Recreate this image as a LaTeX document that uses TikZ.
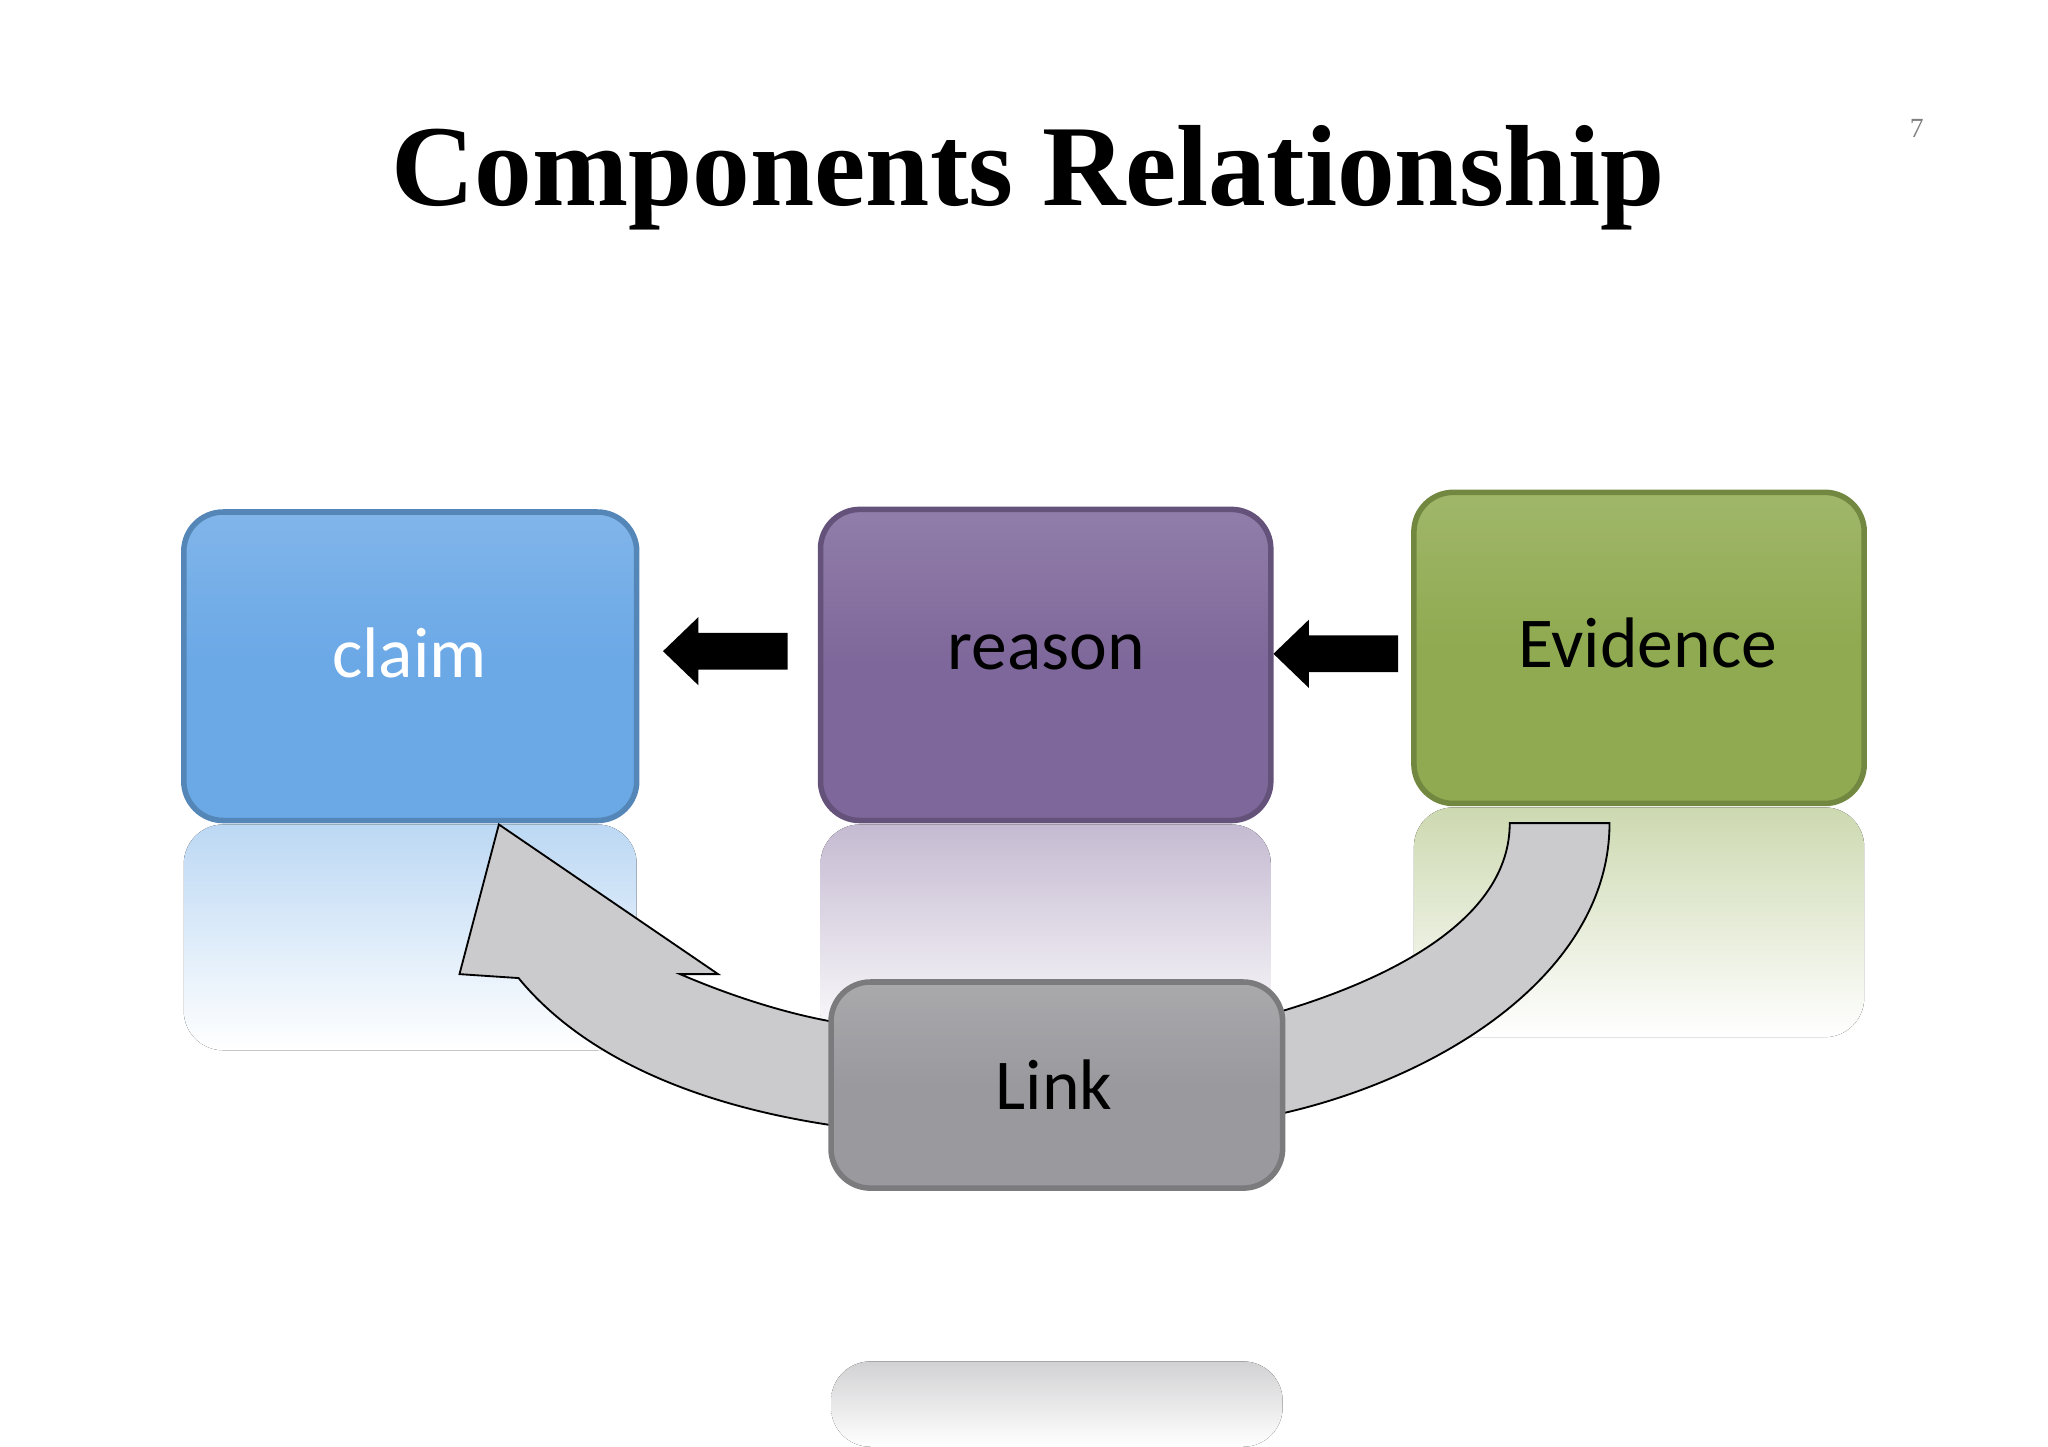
\documentclass[tikz,border=0pt]{standalone}
\usepackage{fontspec}
\setmainfont{Liberation Serif}
\newfontfamily\boxfont{Carlito}
\usetikzlibrary{shapes.geometric}
\definecolor{cblue}{HTML}{6AA8E6}
\definecolor{cpurp}{HTML}{7E679A}
\definecolor{cgreen}{HTML}{8FAA50}
\definecolor{cgray}{HTML}{9A9A9E}
\definecolor{carr}{HTML}{CBCBCD}
\begin{document}
\begin{tikzpicture}[x=0.01cm,y=-0.01cm,
  box/.style={draw=#1!80!black,line width=1.2pt,rounded corners=0.3cm,top color=#1!85!white,bottom color=#1,middle color=#1},
  refl/.style={top color=#1!45!white,bottom color=white,draw=none},
  lbl/.style={font=\boxfont\fontsize{15.5}{18}\selectfont},
  carrow/.style={fill=carr,draw=black,line width=0.4pt}]
\useasboundingbox (0,0) rectangle (1560,1102);
% reflections
\fill[refl=cblue,rounded corners=0.3cm] (140,628) rectangle (485,800);
\fill[refl=cpurp,rounded corners=0.3cm] (625,628) rectangle (968,800);
\fill[refl=cgreen,rounded corners=0.3cm] (1077,615) rectangle (1420,790);
\fill[refl=cgray,rounded corners=0.3cm] (633,1037) rectangle (977,1102);
% title
\node (title) at (783,135) {\fontsize{25}{30}\selectfont\bfseries Components Relationship};
\node[text=gray] (pg) at (1460,98) {\fontsize{6}{7}\selectfont 7};
% boxes
\draw[box=cblue] (140,390) rectangle (485,625);
\node[lbl,text=white] (claim) at (312,497) {claim};
\draw[box=cpurp] (625,388) rectangle (968,625);
\node[lbl] (reason) at (797,497) {reason};
\draw[box=cgreen] (1077,375) rectangle (1420,612);
\node[lbl] (ev) at (1255,490) {Evidence};
% curved arrows
\draw[carrow] (1150,627) -- (1226,627) .. controls (1226,740) and (1100,820) .. (977,848) -- (977,770) .. controls (1060,745) and (1150,700) .. cycle;
\draw[carrow] (633,857) .. controls (520,840) and (440,800) .. (395,745) -- (350,742) -- (380,628) -- (547,742) -- (518,742) .. controls (560,760) and (600,772) .. (633,778) -- cycle;
\draw[box=cgray] (633,748) rectangle (977,905);
\node[lbl] (link) at (803,826) {Link};
% black arrows
\coordinate (a1) at (600,496);
\coordinate (a2) at (1065,497);
\fill[black] (600,482) -- (532,482) -- (532,470) -- (505,496) -- (532,522) -- (532,510) -- (600,510) -- cycle;
\fill[black] (1065,484) -- (997,484) -- (997,472) -- (970,498) -- (997,524) -- (997,512) -- (1065,512) -- cycle;
\end{tikzpicture}
\end{document}
